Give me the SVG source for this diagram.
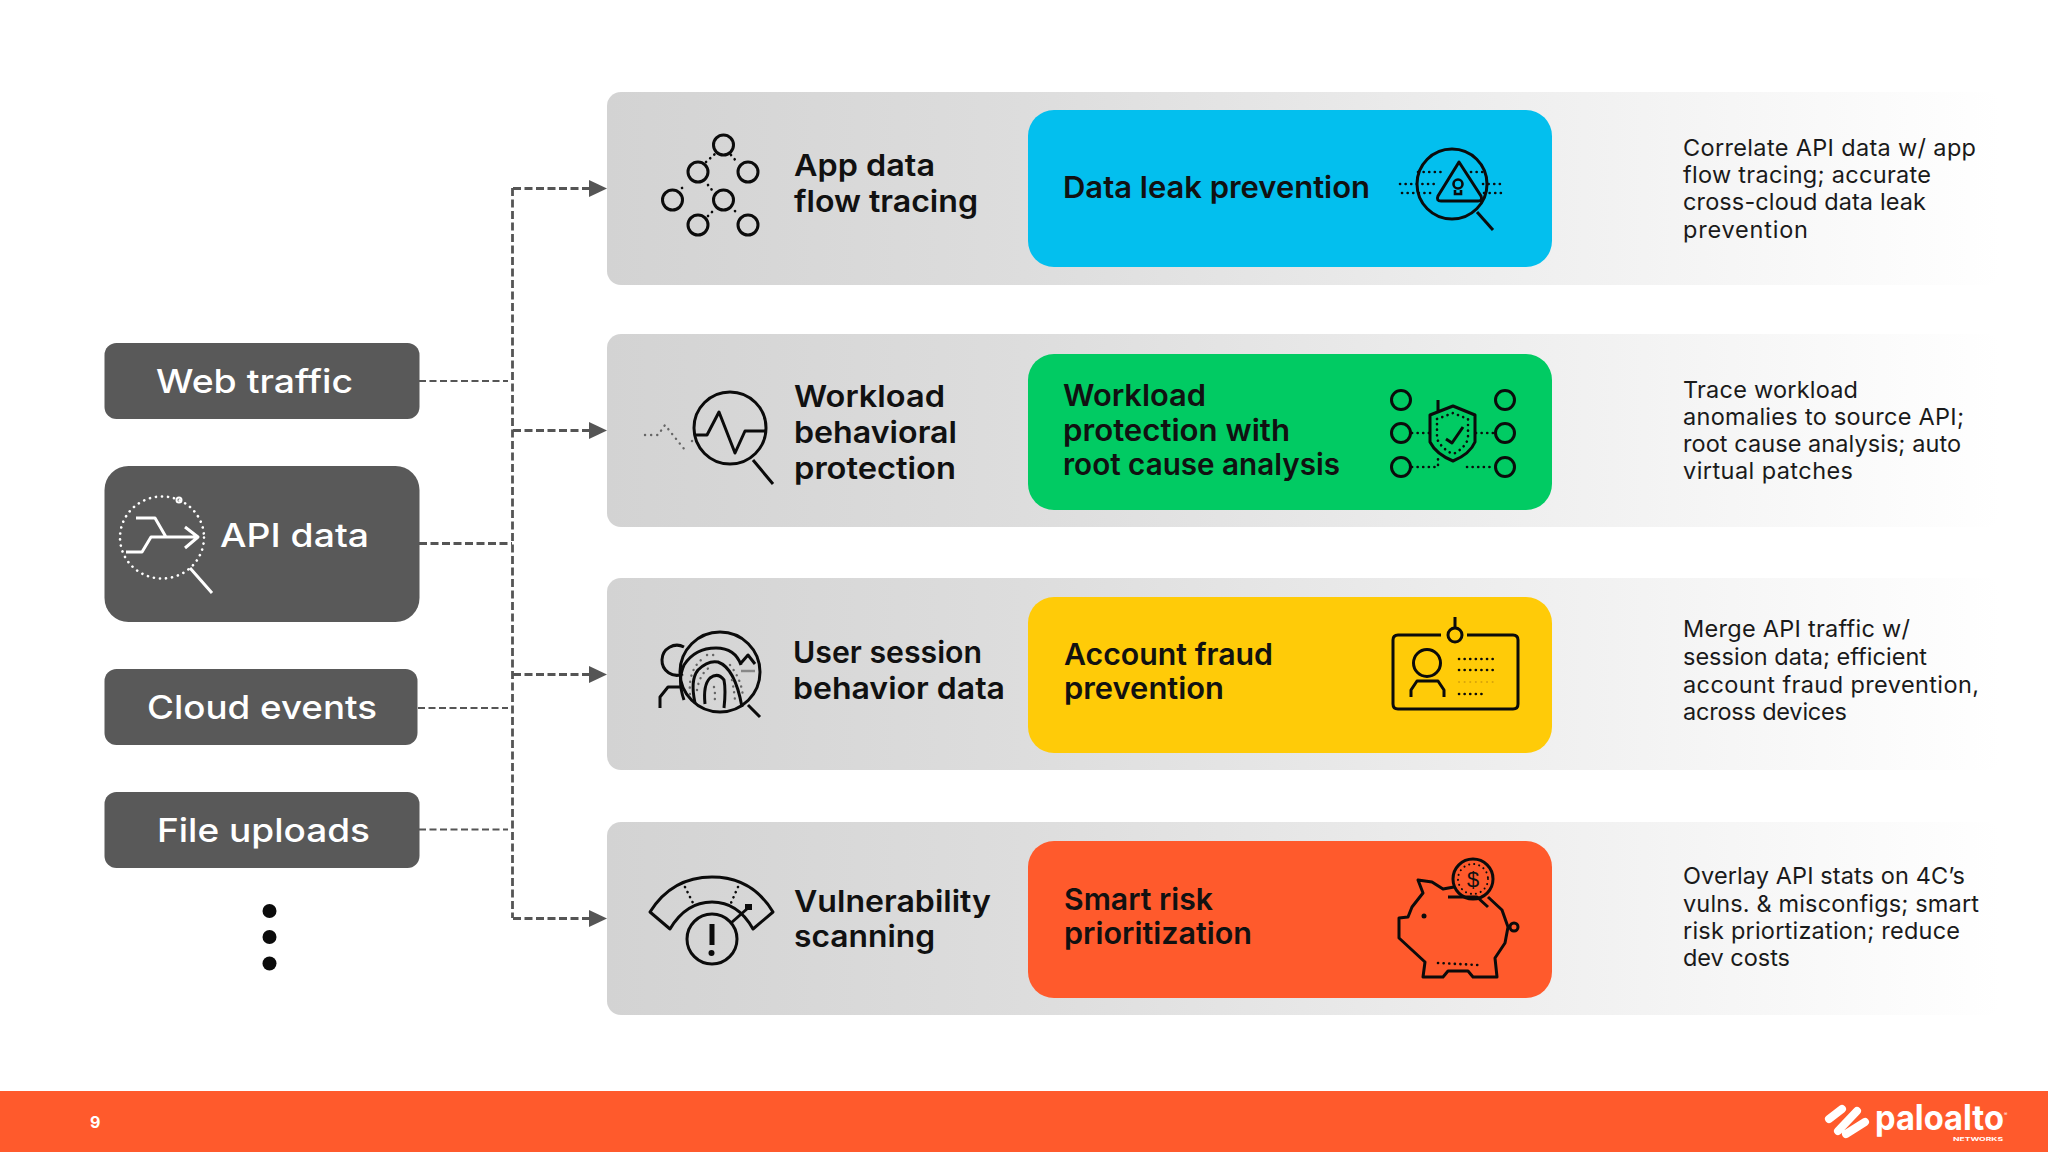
<svg xmlns="http://www.w3.org/2000/svg" width="2048" height="1152" viewBox="0 0 2048 1152">
<style>
text{font-family:Inter,"Liberation Sans",sans-serif;fill:#111}
.h{font-size:30px;font-weight:600}
.d{font-size:23.500px;font-weight:400;fill:#1a1a1a}
.w{font-size:33px;font-weight:500;fill:#fff}
.i{fill:none;stroke:#0b0b0b;stroke-width:3;stroke-linejoin:round}
.t{fill:none;stroke:#0b0b0b;stroke-width:2.600;stroke-dasharray:0.100 5.500;stroke-linecap:round}
.g{fill:none;stroke:#666;stroke-width:2.400;stroke-dasharray:0.100 6;stroke-linecap:round}
.wi{fill:none;stroke:#fff;stroke-width:3;stroke-linejoin:round}
.c1{fill:none;stroke:#555;stroke-width:2;stroke-dasharray:7 3.500}
.c2{fill:none;stroke:#555;stroke-width:2.800;stroke-dasharray:8 3.500}
.src{fill:#595959}
.card{fill:url(#fade)}
</style>
<defs>
<linearGradient id="fade" gradientUnits="userSpaceOnUse" x1="607" y1="0" x2="2000" y2="0">
<stop offset="0" stop-color="#d3d3d3"/><stop offset="0.3" stop-color="#dddddd"/><stop offset="0.68" stop-color="#f0f0f0"/><stop offset="1" stop-color="#ffffff"/>
</linearGradient>
<marker id="arrow" markerUnits="userSpaceOnUse" markerWidth="18" markerHeight="18" refX="0" refY="9" orient="auto"><path d="M0 0.500L18 9L0 17.500Z" fill="#555"/></marker>
</defs>
<rect width="2048" height="1152" fill="#fff"/>

<g id="connectors">
<path class="c2" d="M512.500 188V918"/>
<path class="c1" d="M419 381H508"/>
<path class="c2" d="M419 543.500H512"/>
<path class="c1" d="M418 708H508"/>
<path class="c1" d="M419 829.500H508"/>
<path class="c2" marker-end="url(#arrow)" d="M513 188.500H589"/>
<path class="c2" marker-end="url(#arrow)" d="M513 430.500H589"/>
<path class="c2" marker-end="url(#arrow)" d="M513 674.500H589"/>
<path class="c2" marker-end="url(#arrow)" d="M513 918.500H589"/>
</g>

<g id="src-web"><rect class="src" x="104.500" y="343" width="315" height="76" rx="12"/><text class="w" x="156" y="393" textLength="197" lengthAdjust="spacingAndGlyphs">Web traffic</text></g>
<g id="src-api"><rect class="src" x="104.500" y="466" width="315" height="156" rx="24"/>
<ellipse cx="162" cy="537.500" rx="42" ry="41" fill="none" stroke="#fff" stroke-width="2.600" stroke-dasharray="0.100 6" stroke-linecap="round"/>
<circle cx="179" cy="500" r="2.500" fill="none" stroke="#fff" stroke-width="2"/>
<path class="wi" d="M136 518H155L166 537M126 552H142L151 537H198M185 527L198 537L185 548M190 568L212 593"/>
<text class="w" x="220" y="547" textLength="149" lengthAdjust="spacingAndGlyphs">API data</text></g>
<g id="src-cloud"><rect class="src" x="104.500" y="669" width="313" height="76" rx="12"/><text class="w" x="147" y="719" textLength="230" lengthAdjust="spacingAndGlyphs">Cloud events</text></g>
<g id="src-file"><rect class="src" x="104.500" y="792" width="315" height="76" rx="12"/><text class="w" x="157" y="842" textLength="213" lengthAdjust="spacingAndGlyphs">File uploads</text></g>
<g id="more"><circle cx="269.500" cy="911" r="7" fill="#0b0b0b"/><circle cx="269.500" cy="937" r="7" fill="#0b0b0b"/><circle cx="269.500" cy="963.500" r="7" fill="#0b0b0b"/></g>

<g id="row-1">
<rect class="card" x="607" y="92" width="1393" height="193" rx="14"/>
<g class="i"><circle cx="723.500" cy="145" r="10"/><circle cx="698" cy="172" r="10"/><circle cx="748" cy="172" r="10"/><circle cx="672.500" cy="200" r="10"/><circle cx="723.500" cy="200" r="10"/><circle cx="698" cy="225" r="10"/><circle cx="748" cy="225" r="10"/></g>
<path class="t" d="M706 162L716 153M731 155L737 162M682 188L686 185M708 185L712 190M712 212L708 216M735 211L737 214"/>
<text class="h" x="794" y="176" textLength="141" lengthAdjust="spacingAndGlyphs">App data</text>
<text class="h" x="794" y="212" textLength="184" lengthAdjust="spacingAndGlyphs">flow tracing</text>
<rect x="1028" y="110" width="524" height="157" rx="26" fill="#03bfee"/>
<text class="h" x="1063" y="198" textLength="307" lengthAdjust="spacingAndGlyphs">Data leak prevention</text>
<circle class="i" cx="1452" cy="184" r="35"/>
<path class="i" d="M1459 162L1438 196Q1436 201 1441 201H1478Q1483 201 1481 196Z"/>
<path class="t" d="M1418 172H1442M1471 172H1484M1400 184H1436M1483 184H1505M1402 193H1435M1484 193H1503"/>
<circle cx="1458" cy="184" r="4.500" fill="none" stroke="#0b0b0b" stroke-width="2.600"/><path d="M1455 190V194H1461V190" fill="none" stroke="#0b0b0b" stroke-width="2.600"/>
<path class="i" d="M1477 212L1493 230"/>
</g>

<g id="row-2">
<rect class="card" x="607" y="334" width="1393" height="193" rx="14"/>
<path class="g" d="M645 435H658L665 425L685 450M692 441L695 437"/>
<circle class="i" cx="730" cy="428" r="36"/>
<path class="i" d="M695 435H707L719 412L735 453L745 431H765M753 460L773 484"/>
<text class="h" x="794" y="407" textLength="151" lengthAdjust="spacingAndGlyphs">Workload</text>
<text class="h" x="794" y="443" textLength="163" lengthAdjust="spacingAndGlyphs">behavioral</text>
<text class="h" x="794" y="479" textLength="162" lengthAdjust="spacingAndGlyphs">protection</text>
<rect x="1028" y="354" width="524" height="156" rx="26" fill="#01cb63"/>
<text class="h" x="1063" y="406" textLength="143" lengthAdjust="spacingAndGlyphs">Workload</text>
<text class="h" x="1063" y="441" textLength="227" lengthAdjust="spacingAndGlyphs">protection with</text>
<text class="h" x="1063" y="475" textLength="277" lengthAdjust="spacingAndGlyphs">root cause analysis</text>
<g class="i"><circle cx="1401" cy="400" r="9.500"/><circle cx="1401" cy="433" r="9.500"/><circle cx="1401" cy="467" r="9.500"/><circle cx="1505" cy="400" r="9.500"/><circle cx="1505" cy="433" r="9.500"/><circle cx="1505" cy="467" r="9.500"/>
<path d="M1453 406L1430 415V442Q1436 454 1453 461Q1470 454 1475 442V415ZM1446 439L1452 443L1463 427M1438 400V412"/></g>
<path class="t" d="M1437 419L1453 413L1468 419V439Q1464 449 1453 454Q1442 449 1437 439Z"/>
<path class="t" d="M1412 433H1430M1476 433H1495M1412 467H1438V455M1467 467H1495"/>
</g>

<g id="row-3">
<rect class="card" x="607" y="578" width="1393" height="192" rx="14"/>
<circle class="i" cx="720" cy="672" r="40"/>
<path class="i" d="M683 674A15 15 0 1 1 684 647M660 708V697L668 687H682M684 700Q677 680 684 665Q695 648 716 648Q735 648 741 665M695 703Q690 680 698 670Q708 660 718 662Q735 668 742 707M705 704Q703 685 710 678Q718 672 724 680Q726 690 724 708M748 705L760 717M741 663L748 655L755 664"/>
<path class="g" d="M690 694Q688 668 705 657M697 690Q700 672 712 666M732 680Q735 695 735 703M714 687Q716 695 714 705M707 655H716M730 665Q742 680 743 698"/>
<path d="M741 671H755" stroke="#888" stroke-width="2.500"/>
<text class="h" x="793" y="663" textLength="189" lengthAdjust="spacingAndGlyphs">User session</text>
<text class="h" x="793" y="699" textLength="212" lengthAdjust="spacingAndGlyphs">behavior data</text>
<rect x="1028" y="597" width="524" height="156" rx="26" fill="#ffcb08"/>
<text class="h" x="1064" y="665" textLength="209" lengthAdjust="spacingAndGlyphs">Account fraud</text>
<text class="h" x="1064" y="699" textLength="160" lengthAdjust="spacingAndGlyphs">prevention</text>
<path class="i" d="M1441 635H1398Q1393 635 1393 640V704Q1393 709 1398 709H1513Q1518 709 1518 704V640Q1518 635 1513 635H1467M1455 617V628"/>
<g class="i"><circle cx="1455" cy="635" r="7"/><circle cx="1427" cy="663" r="13.500"/><path d="M1411 697V690L1417 681H1438L1444 690V697"/></g>
<path class="t" d="M1459 659H1498M1459 670H1498M1459 694H1487"/>
<path d="M1459 682H1498" stroke="#d9a50a" stroke-width="2" stroke-dasharray="0.100 5.500" stroke-linecap="round"/>
</g>

<g id="row-4">
<rect class="card" x="607" y="822" width="1393" height="193" rx="14"/>
<path class="i" d="M650 912Q672 877 712 877Q752 877 773 912L753 929Q738 902 712 902Q686 902 670 929Z"/>
<path class="t" d="M685 887L693 903M738 887L731 903"/>
<circle class="i" cx="712" cy="939" r="25"/>
<rect x="709.500" y="924" width="5" height="21" fill="#0b0b0b"/><circle cx="711.500" cy="953" r="3" fill="#0b0b0b"/>
<path class="i" d="M731 923L748 908"/><rect x="745" y="904" width="7" height="6" fill="#0b0b0b"/>
<text class="h" x="794" y="912" textLength="197" lengthAdjust="spacingAndGlyphs">Vulnerability</text>
<text class="h" x="794" y="947" textLength="141" lengthAdjust="spacingAndGlyphs">scanning</text>
<rect x="1028" y="841" width="524" height="157" rx="26" fill="#ff5a2c"/>
<text class="h" x="1064" y="910" textLength="149" lengthAdjust="spacingAndGlyphs">Smart risk</text>
<text class="h" x="1064" y="944" textLength="188" lengthAdjust="spacingAndGlyphs">prioritization</text>
<path class="i" d="M1454 887L1443 889L1432 882L1418 880L1423 893L1412 907L1408 917L1399 918V938L1412 950L1425 962L1423 977H1443L1448 971H1468L1473 977H1497L1495 958L1505 943L1508 927L1502 910L1488 897M1448 897H1477L1488 907"/>
<circle class="i" cx="1473" cy="879" r="20"/><circle cx="1473" cy="879" r="15" fill="none" stroke="#0b0b0b" stroke-width="2" stroke-dasharray="0.100 5" stroke-linecap="round"/>
<text x="1473" y="887" text-anchor="middle" style="font-size:22px;font-family:'Liberation Mono',monospace">$</text>
<circle cx="1424" cy="916" r="2.500" fill="#0b0b0b"/><circle class="i" cx="1514" cy="927" r="4"/>
<path class="t" d="M1438 963L1478 965"/>
</g>

<g id="descriptions">
<text class="d" x="1683" y="156" textLength="293">Correlate API data w/ app</text>
<text class="d" x="1683" y="183" textLength="248">flow tracing; accurate</text>
<text class="d" x="1683" y="210" textLength="243">cross-cloud data leak</text>
<text class="d" x="1683" y="238" textLength="125">prevention</text>
<text class="d" x="1683" y="398" textLength="175">Trace workload</text>
<text class="d" x="1683" y="425" textLength="281">anomalies to source API;</text>
<text class="d" x="1683" y="452" textLength="278">root cause analysis; auto</text>
<text class="d" x="1683" y="479" textLength="170">virtual patches</text>
<text class="d" x="1683" y="637" textLength="227">Merge API traffic w/</text>
<text class="d" x="1683" y="665" textLength="244">session data; efficient</text>
<text class="d" x="1683" y="693" textLength="296">account fraud prevention,</text>
<text class="d" x="1683" y="720" textLength="164">across devices</text>
<text class="d" x="1683" y="884" textLength="282">Overlay API stats on 4C’s</text>
<text class="d" x="1683" y="912" textLength="296">vulns. &amp; misconfigs; smart</text>
<text class="d" x="1683" y="939" textLength="277">risk priortization; reduce</text>
<text class="d" x="1683" y="966" textLength="107">dev costs</text>
</g>

<g id="footer">
<rect x="0" y="1091" width="2048" height="61" fill="#ff5a2c"/>
<text x="90" y="1127.500" style="font-size:16px;font-weight:700;fill:#fff">9</text>
<path d="M1829 1119L1842 1109M1838 1131L1857 1111M1846 1134L1865 1122" stroke="#fff" stroke-width="8" stroke-linecap="round" fill="none"/>
<text x="1875" y="1130" textLength="129" lengthAdjust="spacingAndGlyphs" style="font-size:35px;font-weight:700;fill:#fff">paloalto</text>
<text x="1953" y="1141" textLength="50" lengthAdjust="spacingAndGlyphs" style="font-size:5px;font-weight:700;fill:#fff">NETWORKS</text>
<text x="2004" y="1116" style="font-size:5px;fill:#fff">®</text>
</g>
</svg>
